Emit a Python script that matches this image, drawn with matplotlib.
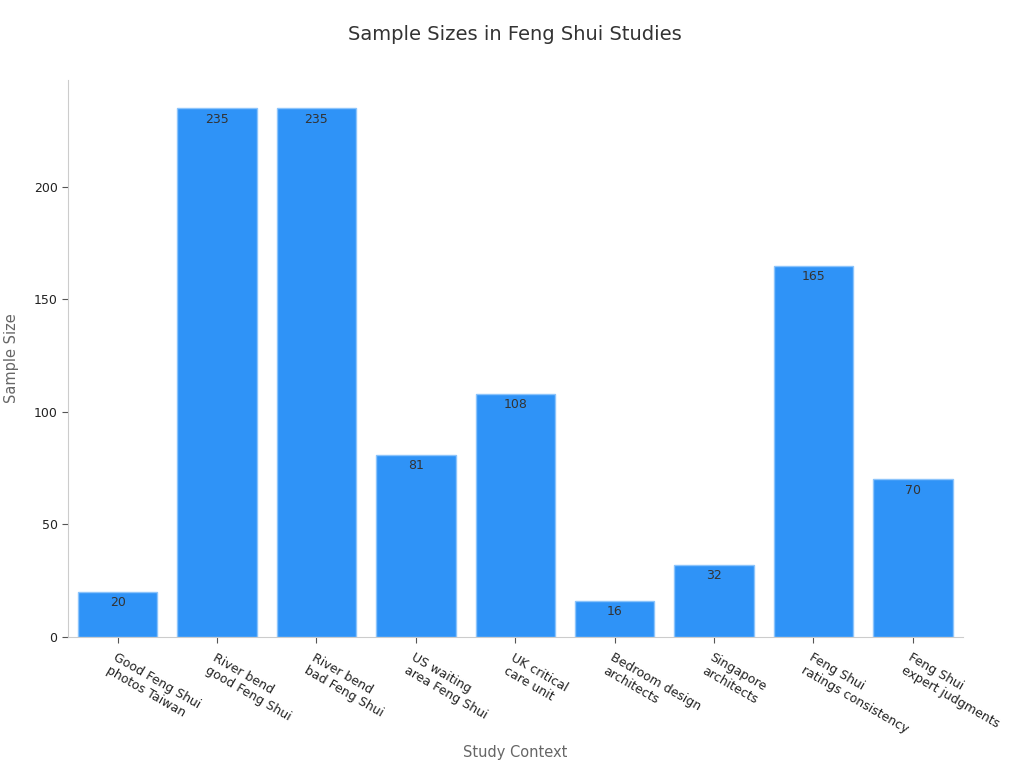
import matplotlib.pyplot as plt

contexts = [
    "Good Feng Shui\nphotos Taiwan",
    "River bend\ngood Feng Shui",
    "River bend\nbad Feng Shui",
    "US waiting\narea Feng Shui",
    "UK critical\ncare unit",
    "Bedroom design\narchitects",
    "Singapore\narchitects",
    "Feng Shui\nratings consistency",
    "Feng Shui\nexpert judgments",
]
sample_sizes = [20, 235, 235, 81, 108, 16, 32, 165, 70]

fig = plt.figure(figsize=(10.24, 7.68), dpi=100)
ax = fig.add_axes([0.0664, 0.1706, 0.8736, 0.7254])

x = range(len(contexts))
bars = ax.bar(x, sample_sizes, width=0.8, color="#2f93f7", edgecolor="#8cc4fb", linewidth=1)

for b, v in zip(bars, sample_sizes):
    ax.text(b.get_x() + b.get_width() / 2, v - 2, str(v), ha="center", va="top",
            fontsize=9, color="#333333")

ax.set_xlim(-0.5, 8.5)
ax.set_ylim(0, 247.5)
ax.set_yticks([0, 50, 100, 150, 200])
ax.set_xticks(list(x))
ax.set_xticklabels(contexts, rotation=-30, ha="left", rotation_mode="anchor",
                   fontsize=9, color="#222222")
ax.tick_params(axis="y", labelsize=9, labelcolor="#222222", color="#555555", length=4)
ax.tick_params(axis="x", color="#555555", length=4, pad=6)

for s in ["top", "right"]:
    ax.spines[s].set_visible(False)
for s in ["left", "bottom"]:
    ax.spines[s].set_color("#cccccc")

ax.set_title("Sample Sizes in Feng Shui Studies", fontsize=14, color="#333333", pad=29)
ax.set_xlabel("Study Context", fontsize=10.5, color="#666666")
ax.xaxis.set_label_coords(0.5, -0.193)
ax.set_ylabel("Sample Size", fontsize=10.5, color="#666666")
ax.yaxis.set_label_coords(-0.055, 0.5)

fig.savefig("out.png", dpi=100)
